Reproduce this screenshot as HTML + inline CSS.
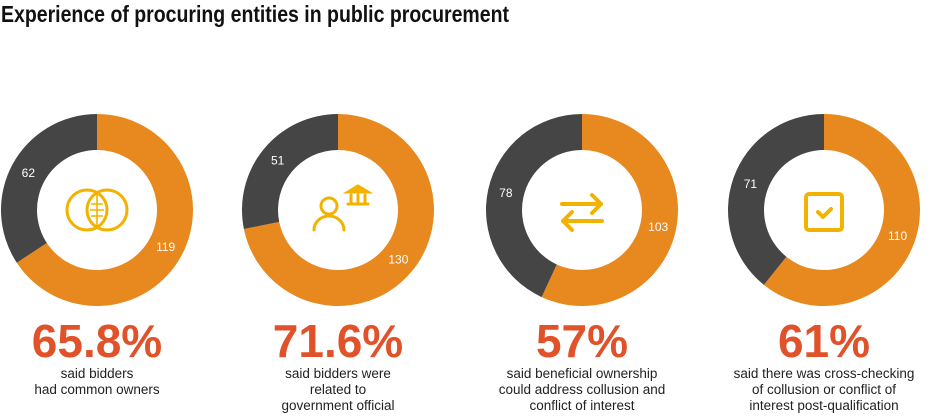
<!DOCTYPE html>
<html><head><meta charset="utf-8"><style>
html,body{margin:0;padding:0;background:#fff;}
svg{display:block;font-family:"Liberation Sans",sans-serif;}
</style></head><body>
<svg id="chart" width="936" height="418" viewBox="0 0 936 418">
<text x="1" y="22" font-size="23" font-weight="bold" fill="#111" textLength="508" lengthAdjust="spacingAndGlyphs">Experience of procuring entities in public procurement</text>
<g id="donuts"></g>
<g fill="none" stroke="#F2B300" stroke-width="3">
<circle cx="87" cy="210" r="20"/><circle cx="107" cy="210" r="20"/>
<path d="M97 193 L97 227 M91 204 H103 M90 210 H104 M91 216 H103" stroke-width="1.6"/>
</g>
<g fill="none" stroke="#F2B300" stroke-width="3" stroke-linecap="round">
<circle cx="329" cy="206" r="8"/><path d="M314 230 A15 14 0 0 1 344 230"/>
<path d="M348 192 L358 186 L368 192 Z" fill="#F2B300"/>
<path d="M351 195 V202 M358 195 V202 M365 195 V202 M348 204 H368"/>
</g>
<g fill="none" stroke="#F2B300" stroke-width="4" stroke-linecap="round" stroke-linejoin="round">
<path d="M562 204 H601 M592 195 L601 204 L592 213"/>
<path d="M602 221 H563 M572 212 L563 221 L572 230"/>
</g>
<g fill="none" stroke="#F2B300" stroke-width="4" stroke-linecap="round" stroke-linejoin="round">
<rect x="806" y="194" width="36" height="36" rx="3"/>
<path d="M818 212 L823 217 L831 209"/>
</g>
<g id="stats"></g>
</svg>
<script>
const charts = ["common-owners","government-official","beneficial-ownership","cross-checking"];
const yesValues = [119,130,103,110];
const noValues = [62,51,78,71];
const pctLabels = ["65.8%","71.6%","57%","61%"];
const captions = [["said bidders","had common owners"],["said bidders were","related to","government official"],["said beneficial ownership","could address collusion and","conflict of interest"],["said there was cross-checking","of collusion or conflict of","interest post-qualification"]];
const centersX = [97,338,582,824];
const cy = 210, rOut = 96, rIn = 60, rLab = 78;
const NS = "http://www.w3.org/2000/svg";
const dG = document.getElementById('donuts'), sG = document.getElementById('stats');
function pt(r, a, cx){ return [cx + r*Math.sin(a), cy - r*Math.cos(a)]; }
function arc(cx, a0, a1){
  const large = (a1-a0) > Math.PI ? 1 : 0;
  const p0=pt(rOut,a0,cx), p1=pt(rOut,a1,cx), p2=pt(rIn,a1,cx), p3=pt(rIn,a0,cx);
  return `M${p0} A${rOut} ${rOut} 0 ${large} 1 ${p1} L${p2} A${rIn} ${rIn} 0 ${large} 0 ${p3} Z`;
}
charts.forEach((c,i)=>{
  const cx = centersX[i], tot = yesValues[i]+noValues[i];
  const split = 2*Math.PI*yesValues[i]/tot;
  const segs = [[0,split,'#E8891F',yesValues[i],'yes'],[split,2*Math.PI,'#454545',noValues[i],'no']];
  segs.forEach(s=>{
    const p = document.createElementNS(NS,'path');
    p.setAttribute('d', arc(cx,s[0],s[1]));
    p.setAttribute('fill', s[2]);
    
    
    dG.appendChild(p);
    const m = (s[0]+s[1])/2, lp = pt(rLab, m, cx);
    const t = document.createElementNS(NS,'text');
    t.setAttribute('x', lp[0]); t.setAttribute('y', lp[1]+4);
    t.setAttribute('text-anchor','middle'); t.setAttribute('font-size','12'); t.setAttribute('fill','#fff');
    t.textContent = s[3];
    
    
    dG.appendChild(t);
  });
  const pt2 = document.createElementNS(NS,'text');
  pt2.setAttribute('x', cx); pt2.setAttribute('y', 357);
  pt2.setAttribute('text-anchor','middle'); pt2.setAttribute('font-size','46'); pt2.setAttribute('font-weight','bold'); pt2.setAttribute('fill','#E0522A');
  pt2.textContent = pctLabels[i];
  
  
  sG.appendChild(pt2);
  captions[i].forEach((line,j)=>{
    const t = document.createElementNS(NS,'text');
    t.setAttribute('x', cx); t.setAttribute('y', 378 + j*16);
    t.setAttribute('text-anchor','middle'); t.setAttribute('font-size','13.5'); t.setAttribute('fill','#222');
    t.textContent = line;
    
    
    sG.appendChild(t);
  });
});
</script>
</body></html>
